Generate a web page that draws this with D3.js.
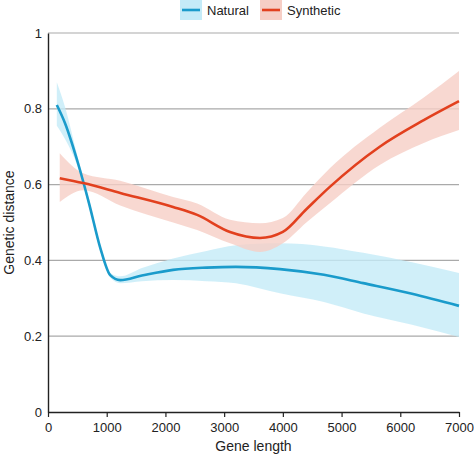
<!DOCTYPE html>
<html>
<head>
<meta charset="utf-8">
<script src="https://cdn.jsdelivr.net/npm/d3@7"></script>
<style>
  body { margin: 0; background: #fff; }
  svg { font-family: "Liberation Sans", Arial, sans-serif; }
</style>
</head>
<body>
<svg id="chart" width="474" height="457"></svg>
<script>
// gene length positions
const naturalX = [150, 290, 510, 700, 890, 1060, 1230, 1600, 2130, 2700, 3200, 3950, 4700, 5370, 6200, 7000];
const naturalY = [0.81, 0.762, 0.657, 0.55, 0.433, 0.361, 0.348, 0.36, 0.375, 0.381, 0.383, 0.377, 0.362, 0.34, 0.312, 0.28];
const naturalLo = [0.755, 0.72, 0.645, 0.54, 0.425, 0.355, 0.34, 0.345, 0.348, 0.345, 0.34, 0.313, 0.29, 0.26, 0.23, 0.198];
const naturalHi = [0.87, 0.805, 0.67, 0.56, 0.44, 0.367, 0.358, 0.38, 0.405, 0.425, 0.44, 0.445, 0.437, 0.42, 0.395, 0.367];

const synthX = [200, 600, 1230, 2130, 2540, 3100, 3610, 4000, 4400, 4800, 5650, 6400, 7000];
const synthY = [0.617, 0.604, 0.578, 0.541, 0.52, 0.475, 0.459, 0.475, 0.535, 0.594, 0.70, 0.77, 0.82];
const synthLo = [0.554, 0.585, 0.545, 0.50, 0.48, 0.445, 0.422, 0.445, 0.50, 0.551, 0.652, 0.71, 0.744];
const synthHi = [0.683, 0.63, 0.61, 0.567, 0.55, 0.507, 0.498, 0.512, 0.578, 0.643, 0.75, 0.83, 0.90];

const xTicks = [0, 1000, 2000, 3000, 4000, 5000, 6000, 7000];
const yTicks = [0, 0.2, 0.4, 0.6, 0.8, 1];

const margin = { top: 33, left: 48, right: 15, bottom: 45 };
const svg = d3.select("#chart");
const w = 474 - margin.left - margin.right;
const h = 457 - margin.top - margin.bottom;

const x = d3.scaleLinear().domain([0, 7000]).range([0, w]);
const y = d3.scaleLinear().domain([0, 1]).range([h, 0]);

const g = svg.append("g").attr("transform", `translate(${margin.left},${margin.top})`);

// grid
g.selectAll(".grid").data(yTicks.filter(d => d > 0)).join("line")
  .attr("x1", 0).attr("x2", w)
  .attr("y1", d => y(d)).attr("y2", d => y(d))
  .attr("stroke", "#aaa").attr("stroke-width", 1.2);

function series(xs, ys, lo, hi, line, band) {
  const pts = xs.map((d, i) => ({ x: d, y: ys[i], lo: lo[i], hi: hi[i] }));
  const area = d3.area().curve(d3.curveMonotoneX)
    .x(d => x(d.x)).y0(d => y(d.lo)).y1(d => y(d.hi));
  const ln = d3.line().curve(d3.curveMonotoneX)
    .x(d => x(d.x)).y(d => y(d.y));
  return { pts, area, ln, line, band };
}

const nat = series(naturalX, naturalY, naturalLo, naturalHi, "#1a9bcb", "#c4ebf8");
const syn = series(synthX, synthY, synthLo, synthHi, "#e2401e", "#f6cec5");

[nat, syn].forEach(s => {
  g.append("path").datum(s.pts).attr("d", s.area)
    .attr("fill", s.band).attr("fill-opacity", 0.8);
});
[nat, syn].forEach(s => {
  g.append("path").datum(s.pts).attr("d", s.ln)
    .attr("fill", "none").attr("stroke", s.line).attr("stroke-width", 2.6);
});

// axes
const xAxis = g.append("g").attr("transform", `translate(0,${h})`)
  .call(d3.axisBottom(x).tickValues(xTicks).tickSize(5).tickSizeOuter(0).tickFormat(d3.format("d")));
const yAxis = g.append("g")
  .call(d3.axisLeft(y).tickValues(yTicks).tickSize(0).tickPadding(6).tickFormat(d => d));
[xAxis, yAxis].forEach(a => {
  a.select(".domain").attr("stroke", "#222").attr("stroke-width", 1.4);
  a.selectAll(".tick line").attr("stroke", "#222").attr("stroke-width", 1.2);
  a.selectAll("text").attr("fill", "#222").attr("font-size", 13)
    .attr("font-family", "Liberation Sans, Arial, sans-serif");
});
xAxis.selectAll("text").attr("dy", "0.95em");

svg.append("text").attr("x", margin.left + w / 2).attr("y", 451)
  .attr("text-anchor", "middle").attr("font-size", 14).attr("fill", "#222")
  .text("Gene length");
svg.append("text").attr("transform", `translate(14,${margin.top + h / 2}) rotate(-90)`)
  .attr("text-anchor", "middle").attr("font-size", 14).attr("fill", "#222")
  .text("Genetic distance");

// legend
const legend = [
  { name: "Natural", s: nat, x0: 180 },
  { name: "Synthetic", s: syn, x0: 260 }
];
const lg = svg.append("g").selectAll("g").data(legend).join("g")
  .attr("transform", d => `translate(${d.x0},0)`);
lg.append("rect").attr("x", 0).attr("y", 0).attr("width", 22).attr("height", 20)
  .attr("fill", d => d.s.band);
lg.append("line").attr("x1", 2).attr("x2", 20).attr("y1", 10).attr("y2", 10)
  .attr("stroke", d => d.s.line).attr("stroke-width", 2.6);
lg.append("text").attr("x", 27).attr("y", 15).attr("font-size", 13).attr("fill", "#222")
  .text(d => d.name);
</script>
</body>
</html>
